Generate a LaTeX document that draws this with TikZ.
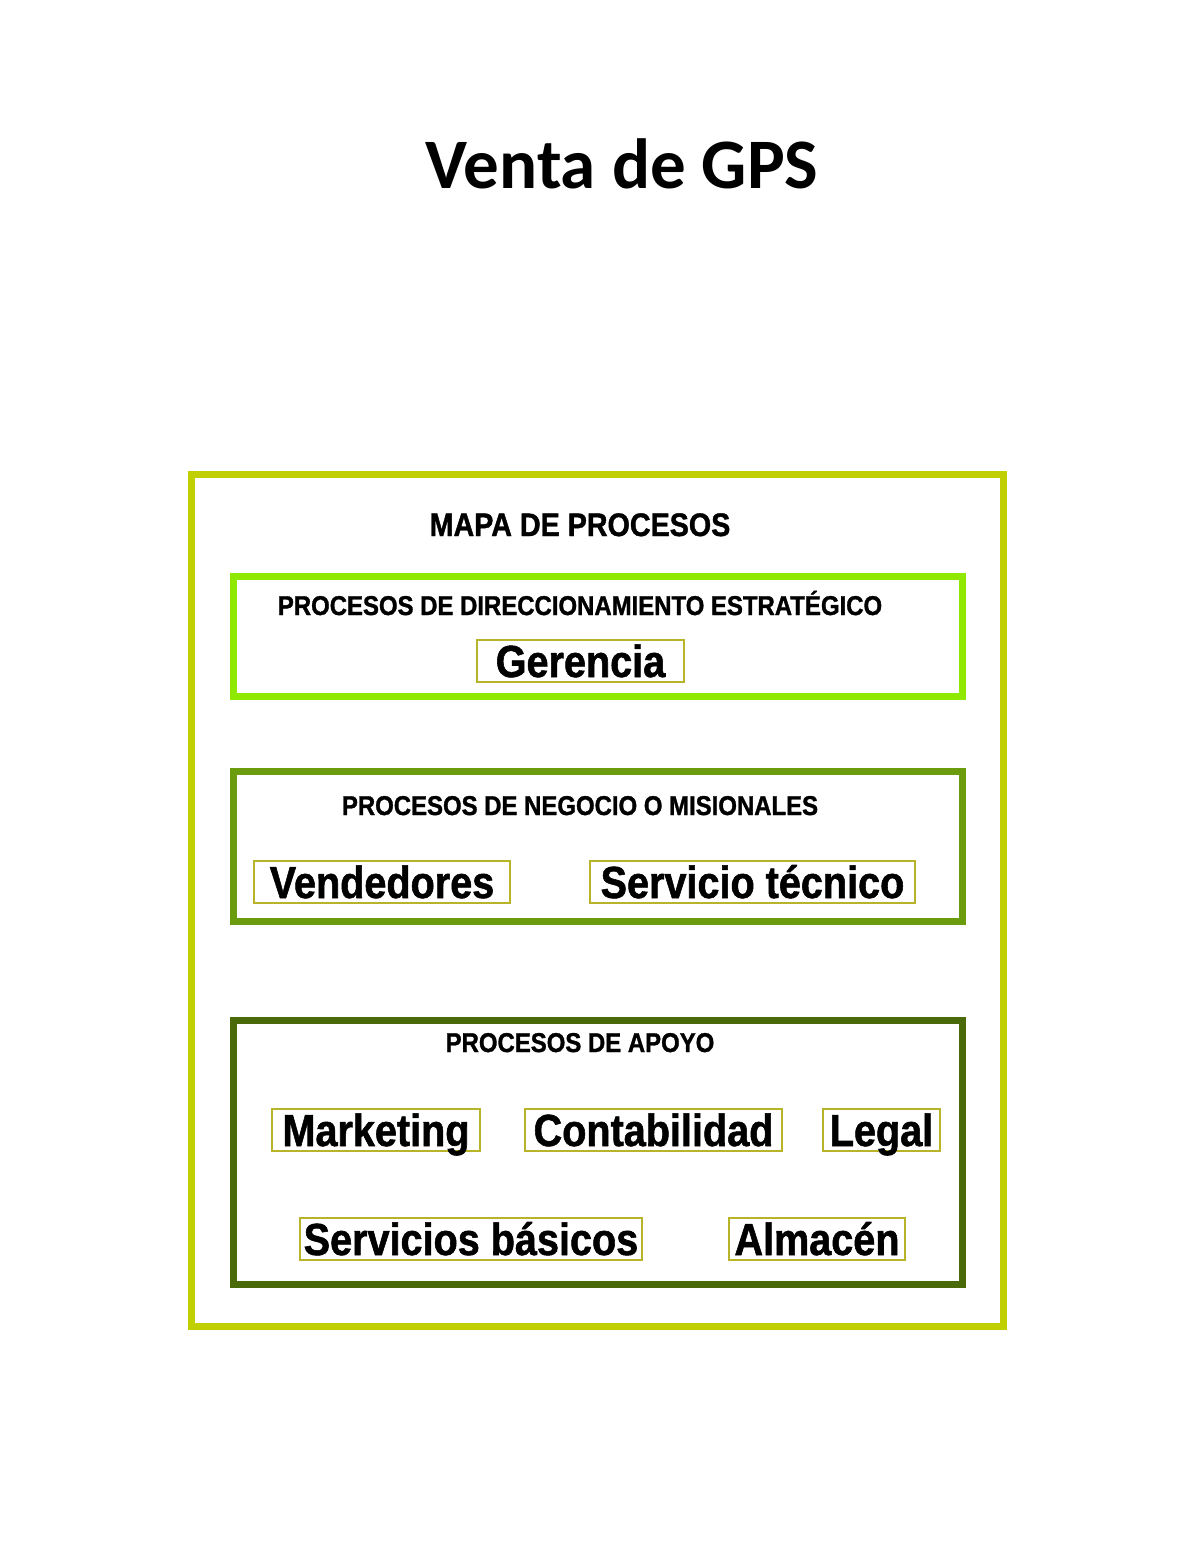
\documentclass[tikz,border=0pt]{standalone}
\usepackage{fontspec}
\setmainfont{Liberation Sans}
\newfontfamily\titlefont{Carlito}
\newfontfamily\narrowfont[FakeStretch=0.88,FakeBold=1.2]{Liberation Sans Bold}
\definecolor{outerc}{HTML}{C0CF00}
\definecolor{dirc}{HTML}{8EE800}
\definecolor{negc}{HTML}{6A9C0E}
\definecolor{apoc}{HTML}{4A6A0A}
\definecolor{itemc}{HTML}{B8B42A}
\tikzset{
  bigbox/.style={draw, line width=3.5pt, minimum height=#1, inner sep=0pt, minimum width=364.5pt},
  itembox/.style={draw=itemc, line width=1.2pt, minimum height=21pt, inner sep=0pt,
     text height=16pt, text depth=0pt, font=\narrowfont\fontsize{22.5pt}{24pt}\selectfont},
  header/.style={anchor=base, inner sep=0pt, font=\narrowfont\fontsize{13.6pt}{15pt}\selectfont},
}
\begin{document}
\begin{tikzpicture}[x=0.5pt,y=-0.5pt]
\useasboundingbox (0,0) rectangle (1200,1553);
\fill[white] (0,0) rectangle (1200,1553);
\node[anchor=base, inner sep=0pt, font=\titlefont\bfseries\fontsize{35.5pt}{40pt}\selectfont] (title) at (622,188) {Venta de GPS};
\node[draw=outerc, line width=3.5pt, minimum width=406pt, minimum height=426pt, inner sep=0pt] (outer) at (597,900) {};
\node[header, font=\narrowfont\fontsize{16.3pt}{18pt}\selectfont] (mapa) at (580,536) {MAPA DE PROCESOS};
\node[bigbox=60pt, draw=dirc] (dir) at (597.5,636) {};
\node[header] (dirlab) at (580,615) {PROCESOS DE DIRECCIONAMIENTO ESTRATÉGICO};
\node[itembox, minimum width=103.5pt] (ger) at (580.5,661) {Gerencia};
\node[bigbox=75pt, draw=negc] (neg) at (597.5,846) {};
\node[header] (neglab) at (580,815) {PROCESOS DE NEGOCIO O MISIONALES};
\node[itembox, minimum width=128pt] (ven) at (382,882) {Vendedores};
\node[itembox, minimum width=162.5pt] (ser) at (752.5,882) {Servicio técnico};
\node[bigbox=132pt, draw=apoc] (apo) at (597.5,1152) {};
\node[header] (apolab) at (580,1052) {PROCESOS DE APOYO};
\node[itembox, minimum width=104pt] (mkt) at (376,1130) {Marketing};
\node[itembox, minimum width=128.5pt] (con) at (653.5,1130) {Contabilidad};
\node[itembox, minimum width=58.5pt] (leg) at (881.5,1130) {Legal};
\node[itembox, minimum width=171pt] (sb) at (471,1239) {Servicios básicos};
\node[itembox, minimum width=88pt] (alm) at (817,1239) {Almacén};
\end{tikzpicture}
\end{document}
